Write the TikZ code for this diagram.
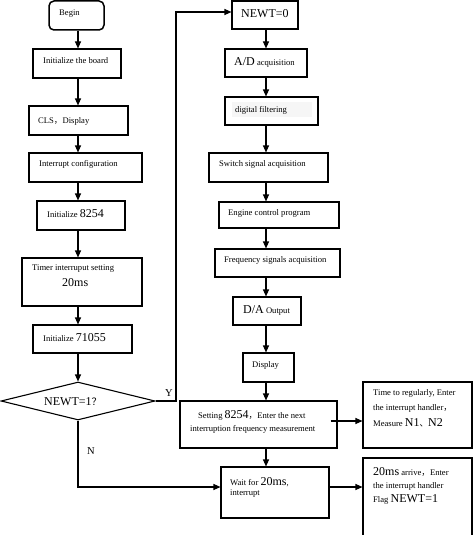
\documentclass[tikz,border=0pt]{standalone}
\usepackage{fontspec}
\setmainfont{Liberation Serif}
\newfontfamily\cjkf{Noto Sans CJK SC}
\usetikzlibrary{arrows.meta,shapes.geometric}
\newcommand{\bg}[1]{{\fontsize{12}{14}\selectfont #1}}
\newcommand{\zc}{{\cjkf ，}}
\newcommand{\zd}{{\cjkf 、}}
\newcommand{\zq}{{\fontsize{10}{12}\selectfont\cjkf ？}}
\newcommand{\mkbox}[6][]{\node[box,#1,minimum width={(#5-#3)*1pt},minimum height={(#6-#4)*1pt}] (#2) at ({(#3+#5)/2},{(#4+#6)/2}) {};}
\begin{document}
\begin{tikzpicture}[x=1pt,y=-1pt,
  box/.style={draw, line width=1.1pt, inner sep=0pt},
  txt/.style={font=\fontsize{8.6}{10}\selectfont, inner sep=0pt, anchor=west},
  lbl/.style={font=\fontsize{10.5}{12}\selectfont, inner sep=0pt, anchor=west},
  conn/.style={line width=1.1pt, -{Triangle[length=7pt,width=6pt]}}]
\useasboundingbox (0,0) rectangle (474,535);
% columns / rows
\coordinate (colL) at (78,0);
\coordinate (colR) at (266,0);
\coordinate (colY) at (176,0);
\coordinate (rowW) at (0,487);
\coordinate (rowS) at (0,421);
\coordinate (rowN) at (0,12);
% left column boxes
\mkbox[rounded corners=5pt,line width=1.5pt]{begin}{49}{1}{104}{30}
\mkbox{init}{33}{49}{121}{78}
\mkbox{cls}{29}{106}{128}{135}
\mkbox{intc}{29}{153}{142}{182}
\mkbox{ieight}{37}{201}{125}{230}
\mkbox{timer}{22}{258}{142}{306}
\mkbox{iseven}{33}{325}{132}{353}
\node[draw, line width=1.1pt, diamond, minimum width=154pt, minimum height=38pt, inner sep=0pt] (dia) at (78,401) {};
% right column boxes
\mkbox{newt}{232}{1}{298}{29}
\mkbox{ad}{225}{49}{307}{77}
\fill[gray!7] (232,102) rectangle (312,117);
\mkbox{dig}{225}{97}{318}{125}
\mkbox{sw}{209}{153}{328}{182}
\mkbox{eng}{219}{202}{339}{228}
\mkbox{freq}{215}{249}{340}{277}
\mkbox{da}{233}{297}{301}{325}
\mkbox{disp}{243}{353}{294}{382}
\mkbox{set}{180}{401}{337}{448}
\mkbox{wait}{221}{467}{329}{518}
\mkbox{ra}{363}{382}{472}{448}
\mkbox{rb}{363}{458}{472}{545}
% texts
\node[txt] (tBegin) at (59,14) {Begin};
\node[txt] (tInit) at (43,61) {Initialize the board};
\node[txt] (tCls) at (38,121) {CLS\zc Display};
\node[txt] (tIntc) at (39,164) {Interrupt configuration};
\node[txt] (tEight) at (47,214) {Initialize \bg{8254}};
\node[txt] (tTimer) at (32,269) {Timer interruput setting};
\node[txt] (tTw) at (62,283) {\bg{20ms}};
\node[txt] (tSeven) at (43,338) {Initialize \bg{71055}};
\node[txt] (tNone) at (44,402) {\bg{NEWT=1}\zq};
\node[lbl] (tY) at (165,393) {Y};
\node[lbl] (tN) at (87,451) {N};
\node[txt] (tNewt) at (241,14) {\bg{NEWT=0}};
\node[txt] (tAd) at (234,62) {\bg{A/D} acquisition};
\node[txt] (tDig) at (235,110) {digital filtering};
\node[txt] (tSw) at (219,164) {Switch signal acquisition};
\node[txt] (tEng) at (228,213) {Engine control program};
\node[txt] (tFreq) at (224,260) {Frequency signals acquisition};
\node[txt] (tDa) at (243,310) {\bg{D/A} Output};
\node[txt] (tDisp) at (252,365) {Display};
\node[txt] (tSa) at (198,415) {Setting \bg{8254}\zc Enter the next};
\node[txt] (tSb) at (190,429) {interruption frequency measurement};
\node[txt] (tWa) at (230,482) {Wait for \bg{20ms},};
\node[txt] (tWb) at (230,494) {interrupt};
\node[txt] (tRa) at (373,393) {Time to regularly, Enter};
\node[txt] (tRb) at (373,408) {the interrupt handler\zc};
\node[txt] (tRc) at (373,423) {Measure \bg{N1}\zd\bg{N2}};
\node[txt] (tRd) at (373,472) {\bg{20ms} arrive\zc Enter};
\node[txt] (tRe) at (373,486) {the interrupt handler};
\node[txt] (tRf) at (373,499) {Flag \bg{NEWT=1}};
% connectors left
\draw[conn] (begin.south -| colL) -- (init.north -| colL);
\draw[conn] (init.south -| colL) -- (cls.north -| colL);
\draw[conn] (cls.south -| colL) -- (intc.north -| colL);
\draw[conn] (intc.south -| colL) -- (ieight.north -| colL);
\draw[conn] (ieight.south -| colL) -- (timer.north -| colL);
\draw[conn] (timer.south -| colL) -- (iseven.north -| colL);
\draw[conn] (iseven.south -| colL) -- (dia.north);
\draw[conn] (dia.east) -- (dia.east -| colY) -- (rowN -| colY) -- (rowN -| newt.west);
\draw[conn] (dia.south) -- (dia.south |- rowW) -- (rowW -| wait.west);
% connectors right
\draw[conn] (newt.south -| colR) -- (ad.north -| colR);
\draw[conn] (ad.south -| colR) -- (dig.north -| colR);
\draw[conn] (dig.south -| colR) -- (sw.north -| colR);
\draw[conn] (sw.south -| colR) -- (eng.north -| colR);
\draw[conn] (eng.south -| colR) -- (freq.north -| colR);
\draw[conn] (freq.south -| colR) -- (da.north -| colR);
\draw[conn] (da.south -| colR) -- (disp.north -| colR);
\draw[conn] (disp.south -| colR) -- (set.north -| colR);
\draw[conn] (set.south -| colR) -- (wait.north -| colR);
\draw[conn] ([xshift=-7pt]rowS -| set.east) -- (rowS -| ra.west);
\draw[conn] (rowW -| wait.east) -- (rowW -| rb.west);
\end{tikzpicture}
\end{document}
